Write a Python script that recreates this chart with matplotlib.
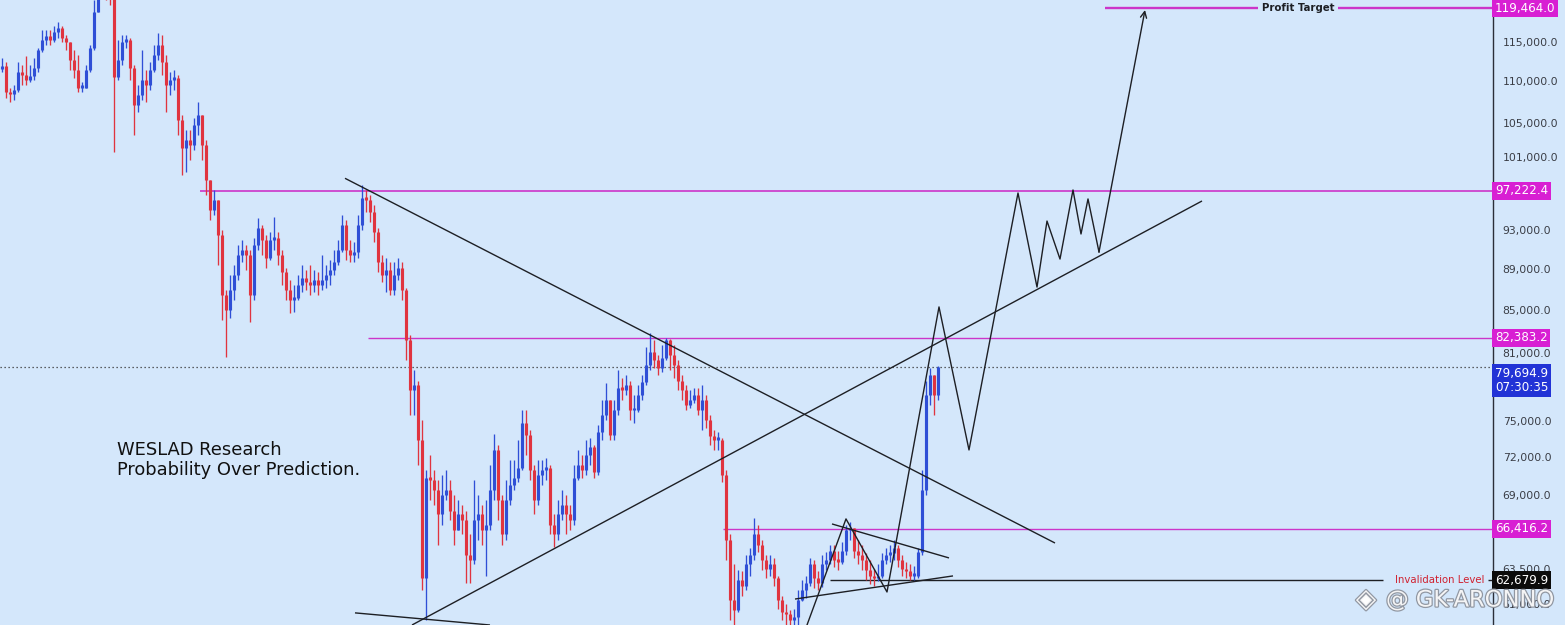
import numpy as np
import matplotlib
matplotlib.use("Agg")
import matplotlib.pyplot as plt
from matplotlib.ticker import FixedLocator, NullLocator, FuncFormatter
import matplotlib.patheffects as pe

# ---------------- data (prices in thousands of USD) ----------------
first_open_k = 111.5
close_k = [111.9,108.7,108.4,108.9,111.1,110.8,110.2,110.6,111.6,113.9,
           115.2,115.8,115.2,116.3,116.8,115.5,115.0,112.7,111.4,109.2,
           109.2,111.4,114.2,118.9,121.9,123.3,122.6,121.9,110.5,112.7,
           115.0,115.2,111.6,107.1,108.3,110.2,109.5,111.4,113.3,114.6,
           112.4,109.5,110.2,110.4,105.3,102.0,103.0,102.4,104.7,105.9,
           102.4,98.4,95.1,96.2,92.5,86.4,85.0,86.9,88.4,90.4,
           90.9,90.4,86.4,91.5,93.2,92.0,90.1,92.0,92.2,90.4,
           88.7,86.9,86.0,86.2,87.4,88.1,87.7,87.4,87.9,87.4,
           87.9,88.4,88.9,89.7,90.9,93.5,90.9,90.4,90.7,93.5,
           96.4,96.2,94.9,92.8,89.7,88.4,88.9,86.9,88.4,89.1,
           86.9,82.2,77.7,78.1,73.4,62.8,70.3,70.2,69.4,67.5,
           69.0,69.4,67.8,66.3,67.5,67.1,64.5,64.1,67.1,67.5,
           66.3,66.7,69.4,72.6,68.6,66.0,68.6,69.8,70.3,71.1,
           74.8,73.8,71.0,68.6,70.6,71.0,71.1,66.7,66.0,67.5,
           68.2,67.5,67.1,70.3,71.4,71.0,72.2,72.8,70.8,74.1,
           75.5,76.8,73.8,75.9,77.8,77.7,78.1,75.9,75.9,77.2,
           78.4,79.9,81.1,80.3,79.6,80.5,82.2,80.8,79.9,78.5,
           77.7,76.4,76.8,77.2,75.9,76.8,75.1,73.7,73.4,73.4,
           70.6,65.6,61.3,60.6,62.7,62.3,63.8,64.5,66.0,65.2,
           64.1,63.5,63.8,62.8,61.3,60.5,60.3,59.9,60.1,61.3,
           62.0,62.5,63.8,62.8,62.5,63.8,64.1,64.8,64.1,64.0,
           64.8,66.3,66.5,64.8,64.5,64.1,63.4,63.0,62.8,63.0,
           64.1,64.5,64.6,65.0,64.1,63.5,63.3,63.0,63.0,64.7,
           69.4,77.2,79.0,77.2,79.6949]
high_k = [112.9,112.4,109.2,109.5,112.4,112.0,113.2,112.0,112.9,114.2,
          116.5,116.5,116.5,117.1,117.6,117.1,115.9,115.0,113.9,113.3,
          109.9,112.0,114.6,120.5,124.7,126.1,125.4,124.0,122.5,115.2,
          115.9,115.9,115.5,112.0,109.5,113.9,111.4,112.4,114.6,116.2,
          115.9,113.3,111.1,111.4,110.8,105.9,104.1,104.1,105.5,107.5,
          105.9,103.0,97.9,97.3,96.2,93.0,86.9,88.4,89.4,91.5,
          92.0,91.5,90.9,92.2,94.3,93.5,92.5,92.8,94.4,92.8,
          90.9,89.1,87.9,87.4,88.4,89.4,88.9,89.4,88.9,88.7,
          90.4,89.4,89.9,90.9,92.0,94.6,94.1,92.0,91.8,94.6,
          97.9,97.3,96.8,95.7,93.2,90.4,90.1,89.7,89.7,90.1,
          89.7,87.1,82.6,79.4,78.5,75.1,71.0,72.2,71.0,70.2,
          70.6,71.0,70.2,69.0,68.6,68.2,67.8,66.0,70.2,69.0,
          68.2,68.6,71.4,73.9,73.0,69.0,70.2,71.8,71.8,73.4,
          75.9,75.9,74.2,71.4,71.8,71.8,71.9,71.4,67.5,68.6,
          69.4,69.0,68.2,71.4,72.6,72.2,73.4,73.6,73.0,74.7,
          76.8,78.3,76.8,76.8,79.4,78.7,79.0,78.5,77.2,78.1,
          79.0,81.5,82.8,82.2,80.8,81.7,82.4,82.3,81.7,80.3,
          79.0,78.1,77.7,77.8,77.8,78.1,77.2,75.5,74.2,74.1,
          73.6,71.0,66.0,63.8,63.4,63.3,64.5,65.0,67.2,66.7,
          65.6,64.5,64.5,64.3,63.0,61.6,61.0,60.6,60.7,62.0,
          62.7,63.0,64.3,64.1,63.3,64.5,64.7,65.2,65.2,64.8,
          65.4,66.7,66.9,66.5,65.6,65.2,64.6,64.1,63.5,63.8,
          64.6,65.0,65.2,65.6,65.2,64.5,64.0,63.8,63.7,65.0,
          71.0,78.5,79.6,79.0,79.8]
low_k = [111.1,107.9,107.5,107.7,108.7,109.5,109.5,109.9,110.2,111.1,
         113.7,114.6,114.6,115.0,115.5,115.0,113.9,111.4,110.4,108.7,
         108.7,109.2,111.1,113.9,119.2,121.2,120.5,119.9,101.6,110.2,
         112.0,114.2,110.2,103.5,106.3,107.7,107.5,108.9,111.1,112.7,
         110.8,106.3,108.3,108.9,103.5,99.0,99.3,100.7,101.8,103.5,
         100.7,96.8,94.1,94.6,89.4,84.0,80.6,84.2,86.0,87.9,
         89.7,88.9,83.9,86.0,90.9,90.4,89.1,89.9,90.9,89.4,
         87.4,86.0,84.7,84.8,86.0,86.7,86.9,86.4,86.7,86.4,
         86.9,87.1,87.4,88.4,89.4,90.7,89.9,89.7,89.7,90.1,
         93.0,94.9,93.9,91.8,88.7,87.7,86.7,86.4,86.4,87.9,
         86.0,80.3,75.5,75.5,71.4,62.0,59.9,68.6,68.2,65.2,
         66.7,68.6,67.1,65.2,66.3,66.0,62.5,62.5,63.8,65.6,
         65.2,63.0,66.3,68.6,67.1,65.2,65.6,68.2,69.4,70.0,
         71.0,72.2,70.2,67.5,68.2,69.8,70.2,66.0,65.1,65.6,
         67.1,66.0,66.3,66.7,70.2,70.3,70.6,71.4,70.3,70.6,
         73.4,75.1,73.4,73.4,75.5,76.8,77.2,75.1,74.8,75.8,
         76.8,78.1,79.4,79.6,79.0,79.3,80.3,79.4,78.7,77.7,
         76.8,75.9,76.1,76.5,75.5,74.2,74.4,73.0,72.6,72.6,
         70.0,64.1,59.9,59.3,60.5,61.6,62.0,63.0,64.1,64.7,
         63.4,62.8,63.0,62.3,60.7,59.9,59.6,59.4,59.3,59.6,
         61.2,61.4,62.3,62.1,62.0,62.2,63.4,63.8,63.6,63.4,
         63.8,64.5,65.6,64.3,63.8,63.4,62.7,62.4,62.3,62.6,
         62.8,63.8,64.0,64.1,63.6,63.0,62.8,62.7,62.7,62.8,
         64.5,69.0,76.4,75.5,76.8]

# key price levels
profit_target = 119464.0
resistance_1 = 97222.4
resistance_2 = 82383.2
support_1 = 66416.2
invalidation = 62679.9
last_price = 79694.9
countdown = "07:30:35"

y_ticks = [115000, 110000, 105000, 101000, 93000, 89000, 85000, 81000,
           75000, 72000, 69000, 63500, 61000]

# drawn annotations: (bar index, price)
desc_trend = [(85.75, 98600), (263.25, 65360)]
asc_trend = [(102.5, 59590), (300.0, 96110)]
bottom_line = [(88.25, 60410), (122.0, 59590)]
tri_upper = [(207.5, 66780), (236.75, 64270)]
tri_lower = [(198.25, 61360), (237.75, 62980)]
proj_bar = [201.25, 211.0, 221.25, 234.25, 241.75, 254.0, 258.75, 261.25,
            264.5, 267.75, 269.75, 271.5, 274.25, 285.75]
proj_price = [59590, 67160, 61850, 85290, 72590, 96980, 87220, 93960,
              90020, 97310, 92600, 96330, 90740, 119200]

# ---------------- styling ----------------
W, H, DPI = 1565, 625, 100
BG = '#d4e7fb'
RED = '#e0343f'
BLUE = '#2f4fd6'
MAG_LINE = '#cc35c9'
MAG_TAG = '#d81fd3'
INK = '#1d1f24'

fig = plt.figure(figsize=(W / DPI, H / DPI), dpi=DPI)
fig.patch.set_facecolor(BG)
plot_w = 1493 / W
ax = fig.add_axes([0, 0, plot_w, 1])
ax.set_facecolor(BG)
ax.set_yscale('log')
XMAX = 372.75
ax.set_xlim(-0.5, XMAX)
ax.set_ylim(59590, 120550)

# candles
close = np.array(close_k) * 1000
opens = np.concatenate([[first_open_k * 1000], close[:-1]])
hi = np.maximum(np.array(high_k) * 1000, np.maximum(opens, close))
lo = np.minimum(np.array(low_k) * 1000, np.minimum(opens, close))
x = np.arange(len(close))
cols = np.where(close >= opens, BLUE, RED)
wicks = ax.vlines(x, lo, hi, colors=cols, lw=0.95, zorder=3)
b_lo = np.minimum(opens, close)
b_hi = np.maximum(np.maximum(opens, close), b_lo * 1.003)
bodies = ax.vlines(x, b_lo, b_hi, colors=cols, lw=2.25, zorder=3)
wicks.set_capstyle('butt')
bodies.set_capstyle('butt')

# horizontal levels
ax.hlines(resistance_1, 49.5, XMAX, color=MAG_LINE, lw=1.2, zorder=2)
ax.hlines(resistance_2, 91.5, XMAX, color=MAG_LINE, lw=1.0, zorder=2)
ax.hlines(support_1, 180.25, XMAX, color=MAG_LINE, lw=1.0, zorder=2)
ax.hlines(profit_target, 275.75, 314.0, color=MAG_LINE, lw=1.7, zorder=2)
ax.hlines(profit_target, 334.0, XMAX, color=MAG_LINE, lw=1.7, zorder=2)
ax.text(324.0, profit_target, 'Profit Target', ha='center', va='center',
        fontsize=7.3, fontweight='bold', color=INK, family='DejaVu Sans')

ax.hlines(invalidation, 207.0, 345.25, color=INK, lw=1.0, zorder=2)
ax.hlines(invalidation, 371.6, XMAX, color=INK, lw=1.0, zorder=2)
ax.text(348.25, invalidation, 'Invalidation Level', ha='left', va='center',
        fontsize=7.3, color='#d0202e')

ax.axhline(last_price, color='#333333', lw=0.9, ls=(0, (1, 2.2)), zorder=2)

# trend lines
for seg in (desc_trend, asc_trend, bottom_line, tri_upper, tri_lower):
    xs, ys = zip(*seg)
    ax.plot(xs, ys, color=INK, lw=1.0, zorder=4, solid_capstyle='butt')

# projection path with arrow
ax.plot(proj_bar[:-1], proj_price[:-1], color=INK, lw=1.0, zorder=4)
ax.annotate('', xy=(proj_bar[-1], proj_price[-1]),
            xytext=(proj_bar[-2], proj_price[-2]),
            arrowprops=dict(arrowstyle='->,head_length=0.45,head_width=0.22',
                            color=INK, lw=1.0, shrinkA=0, shrinkB=0), zorder=4)

# branding text
ax.text(28.75, 72590, 'WESLAD Research', ha='left', va='center',
        fontsize=12.9, color='#111111')
ax.text(28.75, 70970, 'Probability Over Prediction.', ha='left', va='center',
        fontsize=12.9, color='#111111')

# right axis
for s in ('top', 'left', 'bottom'):
    ax.spines[s].set_visible(False)
ax.spines['right'].set_color('#2a2e39')
ax.spines['right'].set_linewidth(1.0)
ax.xaxis.set_major_locator(NullLocator())
ax.xaxis.set_minor_locator(NullLocator())
ax.yaxis.tick_right()
ax.yaxis.set_major_locator(FixedLocator(y_ticks))
ax.yaxis.set_minor_locator(NullLocator())
ax.yaxis.set_major_formatter(FuncFormatter(lambda v, p: f"{v:,.1f}"))
ax.tick_params(axis='y', length=0, pad=7, labelsize=7.8, labelcolor='#3a3d45')

ytr = ax.get_yaxis_transform()
def tag(y, txt, fc, va='center'):
    ax.text(1.0012, y, txt, transform=ytr, ha='left', va=va, fontsize=8.6,
            color='white', linespacing=1.1, clip_on=False, zorder=20,
            bbox=dict(boxstyle='square,pad=0.22', fc=fc, ec='none'))

tag(profit_target, f"{profit_target:,.1f}", MAG_TAG)
tag(resistance_1, f"{resistance_1:,.1f}", MAG_TAG)
tag(resistance_2, f"{resistance_2:,.1f}", MAG_TAG)
tag(support_1, f"{support_1:,.1f}", MAG_TAG)
tag(invalidation, f"{invalidation:,.1f}", '#0b0b0b')
ax.text(1.0012, last_price, f"{last_price:,.1f}\n{countdown}", transform=ytr,
        ha='left', va='top', fontsize=8.6, color='white', linespacing=1.1,
        clip_on=False, zorder=20,
        bbox=dict(boxstyle='square,pad=0.22', fc='#2233d6', ec='none'))

# watermark
stroke = [pe.withStroke(linewidth=1.8, foreground='#8a8f99')]
fig.text(1366 / W, 1 - 600 / H, '◈', ha='center', va='center', fontsize=19,
         color='white', alpha=0.9, path_effects=stroke, zorder=30)
fig.text(1386 / W, 1 - 600 / H, '@ GK-ARONNO', ha='left', va='center',
         fontsize=16.3, color='white', alpha=0.9, path_effects=stroke, zorder=30)

fig.savefig('out.png', dpi=DPI, facecolor=BG)
